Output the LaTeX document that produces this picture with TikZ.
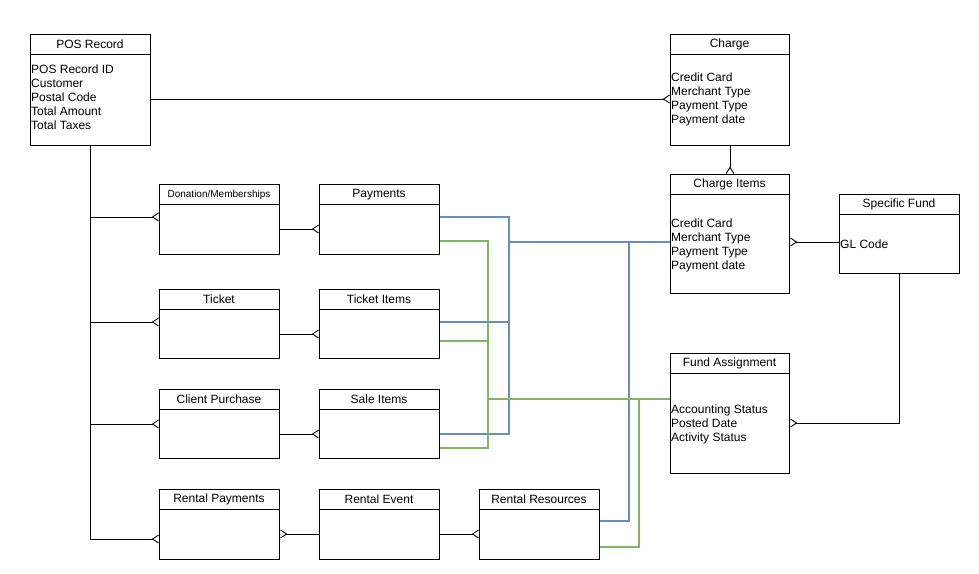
\documentclass[tikz,border=0pt]{standalone}
\usepackage{fontspec}
\setmainfont{Liberation Sans}
\usetikzlibrary{arrows.meta}
\begin{document}
\begin{tikzpicture}[x=1pt,y=-1pt,
 box/.style={draw,line width=1pt,rectangle,anchor=north west,inner sep=0pt},
 hd/.style={font=\fontsize{12}{14}\selectfont,anchor=center},
 body/.style={font=\fontsize{12}{14}\selectfont,align=left,anchor=west,inner sep=1pt},
 ln/.style={line width=1pt},
 crow/.style={ln,-{Straight Barb[reversed,length=6pt,width=8pt,line width=0.9pt]}},
 bl/.style={line width=2.6pt,draw={rgb,255:red,108;green,142;blue,191}},
 gr/.style={line width=2.6pt,draw={rgb,255:red,130;green,179;blue,102}}]
\useasboundingbox (0,0) rectangle (979,573);
\newcommand{\ent}[6]{%
 \node[box,minimum width=#4-#2,minimum height=#5-#3] (#1) at (#2,#3) {};
 \draw[line width=1pt] (#2,#3+20) -- (#4,#3+20);
 \node[hd] (#1h) at ({(#2+#4)/2},#3+10.5) {#6};}
\ent{pos}{30}{34}{150}{145}{POS Record}
\node[body,anchor=north west] (posb) at (30,64) {POS Record ID\\Customer\\Postal Code\\Total Amount\\Total Taxes};
\ent{ch}{670}{34}{789}{145}{Charge}
\node[body] (chb) at (670,99) {Credit Card\\Merchant Type\\Payment Type\\Payment date};
\ent{ci}{670}{174}{789}{293}{Charge Items}
\node[body] (cib) at (670,245) {Credit Card\\Merchant Type\\Payment Type\\Payment date};
\ent{sf}{839}{194}{959}{273}{Specific Fund}
\node[body] (sfb) at (839,244) {GL Code};
\ent{fa}{670}{353}{789}{473}{Fund Assignment}
\node[body] (fab) at (670,424) {Accounting Status\\Posted Date\\Activity Status};
\ent{dm}{159}{184}{279}{254}{\fontsize{10}{12}\selectfont Donation/Memberships}
\ent{pay}{319}{184}{439}{254}{Payments}
\ent{tk}{159}{289}{279}{358}{Ticket}
\ent{ti}{319}{289}{439}{358}{Ticket Items}
\ent{cp}{159}{389}{279}{458}{Client Purchase}
\ent{si}{319}{389}{439}{458}{Sale Items}
\ent{rp}{159}{489}{279}{559}{Rental Payments}
\ent{re}{319}{489}{439}{559}{Rental Event}
\ent{rr}{479}{489}{599}{559}{Rental Resources}
% black connectors
\draw[crow] (pos.east |- 0,99) -- (ch.west |- 0,99);
\draw[crow] (ch.south) -- (ci.north);
\coordinate (trunk) at (90,145);
\draw[ln] (trunk) -- (90,539);
\draw[crow] (90,217) -- (dm.west |- 0,217);
\draw[crow] (90,322) -- (tk.west |- 0,322);
\draw[crow] (90,424) -- (cp.west |- 0,424);
\draw[crow] (90,539) -- (rp.west |- 0,539);
\draw[crow] (dm.east |- 0,229) -- (pay.west |- 0,229);
\draw[crow] (tk.east |- 0,334) -- (ti.west |- 0,334);
\draw[crow] (cp.east |- 0,434) -- (si.west |- 0,434);
\draw[crow] (re.west |- 0,534) -- (rp.east |- 0,534);
\draw[crow] (re.east |- 0,534) -- (rr.west |- 0,534);
\draw[crow] (sf.west |- 0,242) -- (ci.east |- 0,242);
\draw[crow] (sf.south -| 899,0) -- (899,423) -- (fa.east |- 0,423);
% blue
\draw[bl] (pay.east |- 0,217) -- (509,217) -- (509,434) -- (si.east |- 0,434);
\draw[bl] (ti.east |- 0,322) -- (509,322);
\draw[bl] (509,242) -- (ci.west |- 0,242);
\draw[bl] (rr.east |- 0,521) -- (629,521) -- (629,242);
% green
\draw[gr] (pay.east |- 0,241) -- (488,241) -- (488,448) -- (si.east |- 0,448);
\draw[gr] (ti.east |- 0,341) -- (488,341);
\draw[gr] (488,399) -- (fa.west |- 0,399);
\draw[gr] (rr.east |- 0,547) -- (639,547) -- (639,399);
\end{tikzpicture}
\end{document}
